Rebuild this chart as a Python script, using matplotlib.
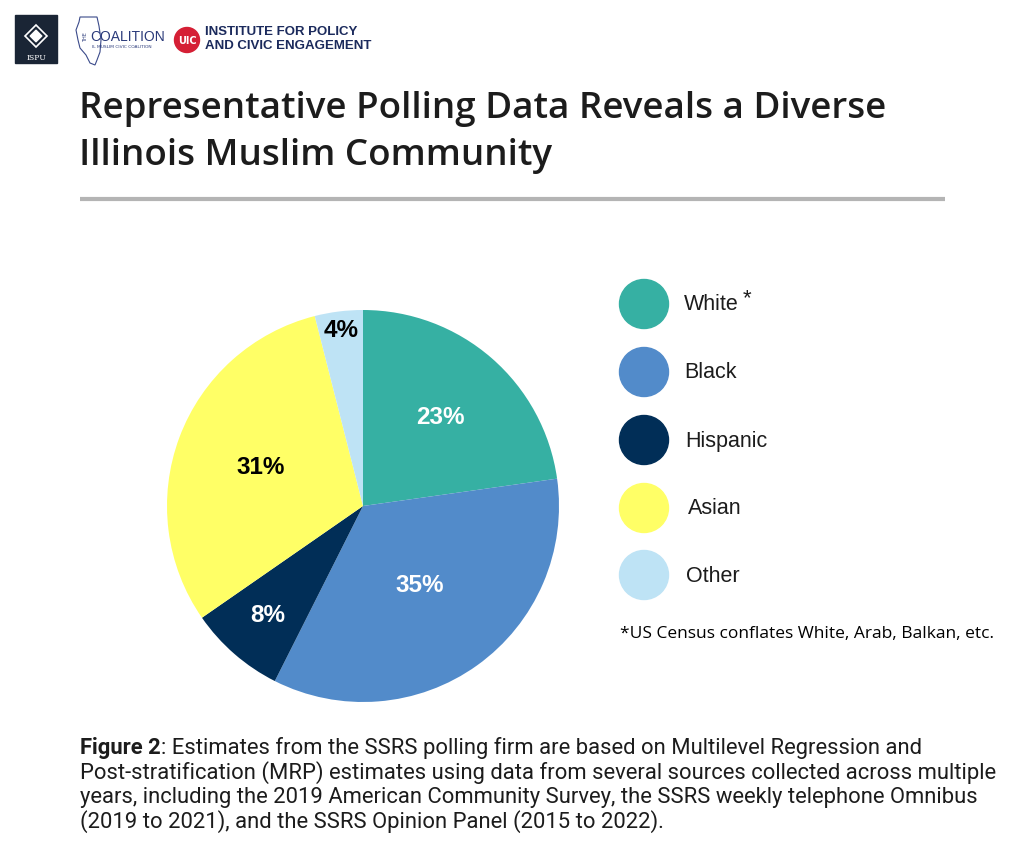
import matplotlib.pyplot as plt
from matplotlib.patches import Circle, Rectangle
import numpy as np

groups = ["White", "Black", "Hispanic", "Asian", "Other"]
shares = [23, 35, 8, 31, 4]
colors = ["#36b0a3", "#528bca", "#012e57", "#ffff66", "#bee3f5"]
label_colors = ["white", "white", "white", "black", "black"]
label_dist = [0.60, 0.50, 0.74, 0.56, 0.90]

title_lines = ["Representative Polling Data Reveals a Diverse", "Illinois Muslim Community"]
footnote = "*US Census conflates White, Arab, Balkan, etc."
caption_lines = [
    "Estimates from the SSRS polling firm are based on Multilevel Regression and",
    "Post-stratification (MRP) estimates using data from several sources collected across multiple",
    "years, including the 2019 American Community Survey, the SSRS weekly telephone Omnibus",
    "(2019 to 2021), and the SSRS Opinion Panel (2015 to 2022).",
]

W, H = 1024, 859
fig = plt.figure(figsize=(W / 100, H / 100), dpi=100)

# background axes in pixel coords
bg = fig.add_axes([0, 0, 1, 1])
bg.set_xlim(0, W)
bg.set_ylim(H, 0)
bg.axis("off")

# logos (rough)
bg.add_patch(Rectangle((15, 15), 42, 48, color="#1a2535"))
d = np.array([[36, 25], [47, 36], [36, 47], [25, 36]])
bg.add_patch(plt.Polygon(d, closed=True, fc="none", ec="white", lw=1.2))
d2 = np.array([[36, 30], [42, 36], [36, 42], [30, 36]])
bg.add_patch(plt.Polygon(d2, closed=True, fc="white", ec="white", lw=0.8))
bg.text(36, 58, "ISPU", color="white", fontsize=5.5, ha="center", va="center",
        family="DejaVu Serif")
il = np.array([[80, 17], [97, 17], [99, 26], [101, 40], [100, 52], [97, 60],
               [95, 65], [90, 63], [86, 55], [80, 48], [78, 40], [76, 30], [79, 22]])
bg.add_patch(plt.Polygon(il, closed=True, fc="none", ec="#3a4a8a", lw=0.8))
bg.text(86, 37, "THE", color="#2a3a7a", fontsize=3.5, rotation=90, ha="center",
        va="center")
bg.text(90, 37, "COALITION", color="#2a3a7a", fontsize=10, ha="left", va="center",
        family="Liberation Sans")
bg.text(92, 47, "IL MUSLIM CIVIC COALITION", color="#2a3a7a", fontsize=3.2, ha="left",
        va="center")
bg.add_patch(Circle((187, 40), 12.5, color="#d51f35"))
bg.text(187, 40.5, "UIC", color="white", fontsize=7, fontweight="bold", ha="center",
        va="center")
bg.text(205, 32, "INSTITUTE FOR POLICY", color="#1b2a5c", fontsize=9.5,
        fontweight="bold", ha="left", va="center", family="Liberation Sans")
bg.text(205, 46, "AND CIVIC ENGAGEMENT", color="#1b2a5c", fontsize=9.5,
        fontweight="bold", ha="left", va="center", family="Liberation Sans")

# title and rule
for line, y in zip(title_lines, [118, 165]):
    bg.text(79, y, line, fontsize=26.5, fontweight="semibold", family="Open Sans",
            color="#1c1c1c", ha="left", va="baseline")
bg.plot([80, 945], [199, 199], color="#b4b4b4", lw=3, solid_capstyle="butt")

# pie
cx, cy, r = 363, 506, 196
ax = fig.add_axes([(cx - r) / W, (H - cy - r) / H, 2 * r / W, 2 * r / H])
wedges, _ = ax.pie(shares, colors=colors, startangle=90, counterclock=False,
                   radius=1, wedgeprops=dict(linewidth=0))
ax.set_xlim(-1, 1)
ax.set_ylim(-1, 1)
ax.set_aspect("equal")
for w, pct, c, dist in zip(wedges, shares, label_colors, label_dist):
    mid = np.deg2rad((w.theta1 + w.theta2) / 2)
    ax.text(dist * np.cos(mid), dist * np.sin(mid), f"{pct}%", color=c,
            fontsize=17.5, fontweight="bold", family="Liberation Sans",
            ha="center", va="center")

# legend
leg_y = [304, 372, 440, 508, 575]
leg_x = [684, 684, 685, 688, 686]
for g, c, y, x in zip(groups, colors, leg_y, leg_x):
    bg.add_patch(Circle((644, y), 24.5, color=c))
    bg.text(x, y + 1, g, fontsize=15.5, family="Liberation Sans", color="#1c1c1c",
            ha="left", va="center")
bg.text(743, 299, "*", fontsize=16, family="Liberation Sans", color="#1c1c1c",
        ha="left", va="center")
bg.text(620, 634, footnote, fontsize=12.5, family="Open Sans", color="black",
        ha="left", va="center")

# caption
cap_y = [748, 773, 797, 822]
cap_font = dict(fontsize=15.8, family="Roboto", color="#1c1c1c", ha="left",
                va="center")
t = bg.text(80, cap_y[0], "Figure 2", fontweight="bold", **cap_font)
fig.canvas.draw()
bb = t.get_window_extent()
x_end = bg.transData.inverted().transform((bb.x1, bb.y0))[0]
bg.text(x_end, cap_y[0], ": " + caption_lines[0], **cap_font)
for line, y in zip(caption_lines[1:], cap_y[1:]):
    bg.text(80, y, line, **cap_font)

plt.savefig("out.png", dpi=100)
